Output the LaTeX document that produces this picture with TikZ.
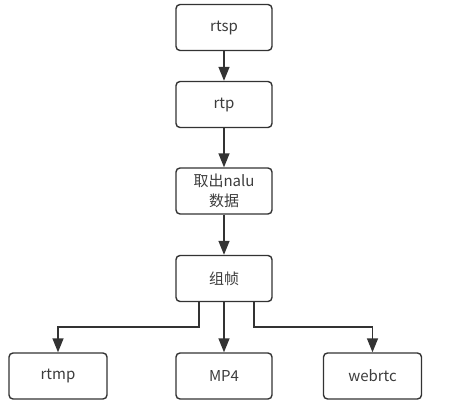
\documentclass[tikz,border=0pt]{standalone}
\usepackage{fontspec}
\setmainfont{Noto Sans CJK SC}
\usetikzlibrary{arrows.meta}
\definecolor{ink}{HTML}{333333}
\definecolor{txt}{HTML}{3C3C3C}
\begin{document}
\begin{tikzpicture}[x=1pt,y=-1pt,
  box/.style={draw=ink,line width=1.4pt,rounded corners=4pt,minimum width=96pt,minimum height=46pt,inner sep=0pt,align=center,font=\fontsize{15}{20}\selectfont,text=txt},
  conn/.style={draw=ink,line width=1.4pt,-{Triangle[width=11pt,length=14pt]}}]
\useasboundingbox (0,0) rectangle (474,415);
\node[box] (rtsp) at (224,27.5) {rtsp};
\node[box] (rtp) at (224,104.5) {rtp};
\node[box] (nalu) at (224,191) {取出nalu\\数据};
\node[box] (zz) at (224,278.5) {组帧};
\node[box,minimum width=98pt] (rtmp) at (58,376) {rtmp};
\node[box] (mp4) at (224,376) {MP4};
\node[box,minimum width=98pt] (web) at (372.5,376) {webrtc};
\draw[conn] (rtsp) -- (rtp);
\draw[conn] (rtp) -- (nalu);
\draw[conn] (nalu) -- (zz);
\draw[conn] (zz) -- (mp4);
\draw[conn] ([xshift=-25pt]zz.south) |- (58,327) -- (rtmp.north);
\draw[conn] ([xshift=30pt]zz.south) |- (372.5,327) -- (web.north);
\end{tikzpicture}
\end{document}
